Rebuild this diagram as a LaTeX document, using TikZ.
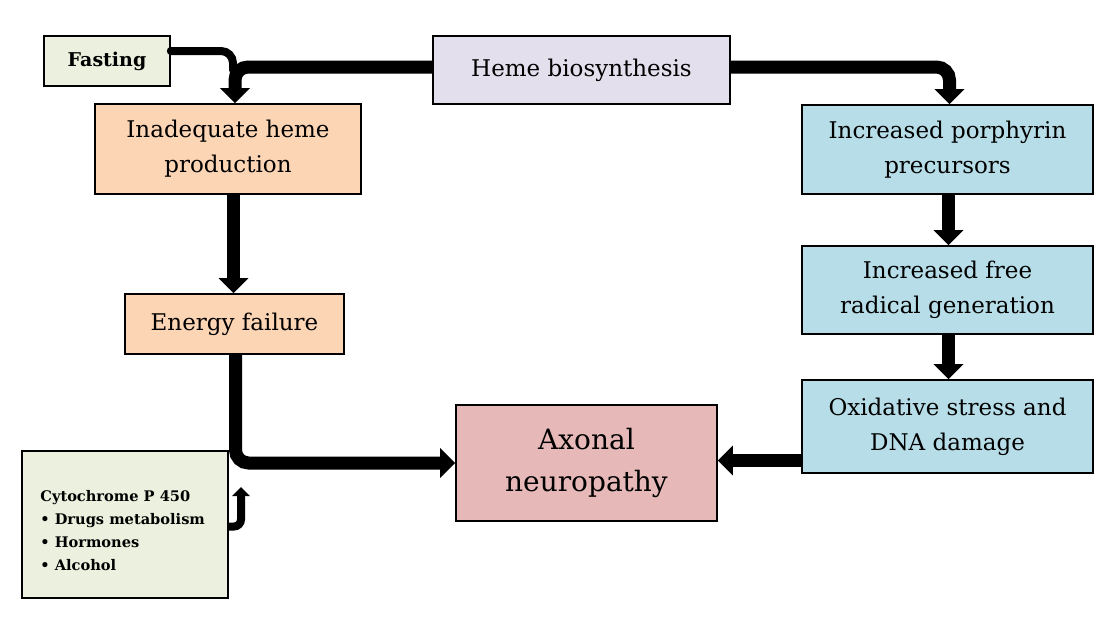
\documentclass[tikz,border=0pt]{standalone}
\usepackage{fontspec}
\setmainfont{DejaVu Serif}
\usetikzlibrary{arrows.meta,calc}
\definecolor{cgreen}{HTML}{EBF1DE}
\definecolor{clav}{HTML}{E4DFEC}
\definecolor{cpeach}{HTML}{FCD5B5}
\definecolor{cblue}{HTML}{B7DEE8}
\definecolor{cpink}{HTML}{E6B9B8}
\tikzset{
  box/.style={draw=black, line width=1.6pt, rectangle, inner sep=2pt, align=center, font=\fontsize{23}{35}\selectfont},
  arr/.style={line width=13pt, -{Triangle[width=29pt,length=15pt]}, rounded corners=13pt},
  ln/.style={line width=8pt, rounded corners=12pt, line cap=round},
  sarr/.style={line width=8pt, -{Triangle[width=17pt,length=9pt]}, rounded corners=7pt},
}
\begin{document}
\begin{tikzpicture}[x=1pt,y=-1pt]
\useasboundingbox (0,0) rectangle (1110,637);
\node[box, fill=cgreen, minimum width=126pt, minimum height=50pt, font=\bfseries\fontsize{19}{22}\selectfont] (fast) at (107,61) {Fasting};
\node[box, fill=clav, minimum width=297pt, minimum height=68pt] (heme) at (581.5,70) {Heme biosynthesis};
\node[box, fill=cpeach, minimum width=266pt, minimum height=90pt] (inad) at (228,149) {Inadequate heme\\production};
\node[box, fill=cpeach, minimum width=219pt, minimum height=60pt] (energy) at (234.5,324) {Energy failure};
\node[box, fill=cgreen, minimum width=206pt, minimum height=147pt] (cyto) at (125,524.5) {};
\node[anchor=west, align=left, inner sep=0pt, font=\bfseries\fontsize{14.6}{23}\selectfont] (cytotext) at ([xshift=19pt,yshift=-6pt]cyto.west) {Cytochrome P 450\\• Drugs metabolism\\• Hormones\\• Alcohol};
\node[box, fill=cpink, minimum width=261pt, minimum height=116pt, font=\fontsize{28}{42}\selectfont] (axon) at (586.5,463) {Axonal\\neuropathy};
\node[box, fill=cblue, minimum width=291pt, minimum height=89pt] (porph) at (947.5,149.5) {Increased porphyrin\\precursors};
\node[box, fill=cblue, minimum width=291pt, minimum height=88pt] (free) at (947.5,290) {Increased free\\radical generation};
\node[box, fill=cblue, minimum width=291pt, minimum height=93pt] (oxi) at (947.5,426.5) {Oxidative stress and\\DNA damage};
\coordinate (fjoin) at (233,70);
\coordinate (ctip) at (241,487);
\draw[ln] ([yshift=10pt]fast.east) -| (fjoin);
\draw[arr] ([yshift=3pt]heme.west) -| ([xshift=7pt]inad.north);
\draw[arr] ([yshift=3pt]heme.east) -| ([xshift=2pt]porph.north);
\draw[arr] ([xshift=-1pt]energy.north |- inad.south) -- ([xshift=-1pt]energy.north);
\draw[arr] ([xshift=1pt]energy.south) |- (axon.west);
\draw[sarr] ([yshift=-2pt]cyto.east) -| (ctip);
\draw[arr] ([xshift=1pt]porph.south) -- ([xshift=1pt]free.north);
\draw[arr] ([xshift=1pt]free.south) -- ([xshift=1pt]oxi.north);
\draw[arr] ([yshift=-34pt]oxi.west) -- ([yshift=-34pt]oxi.west -| axon.east);
\end{tikzpicture}
\end{document}
